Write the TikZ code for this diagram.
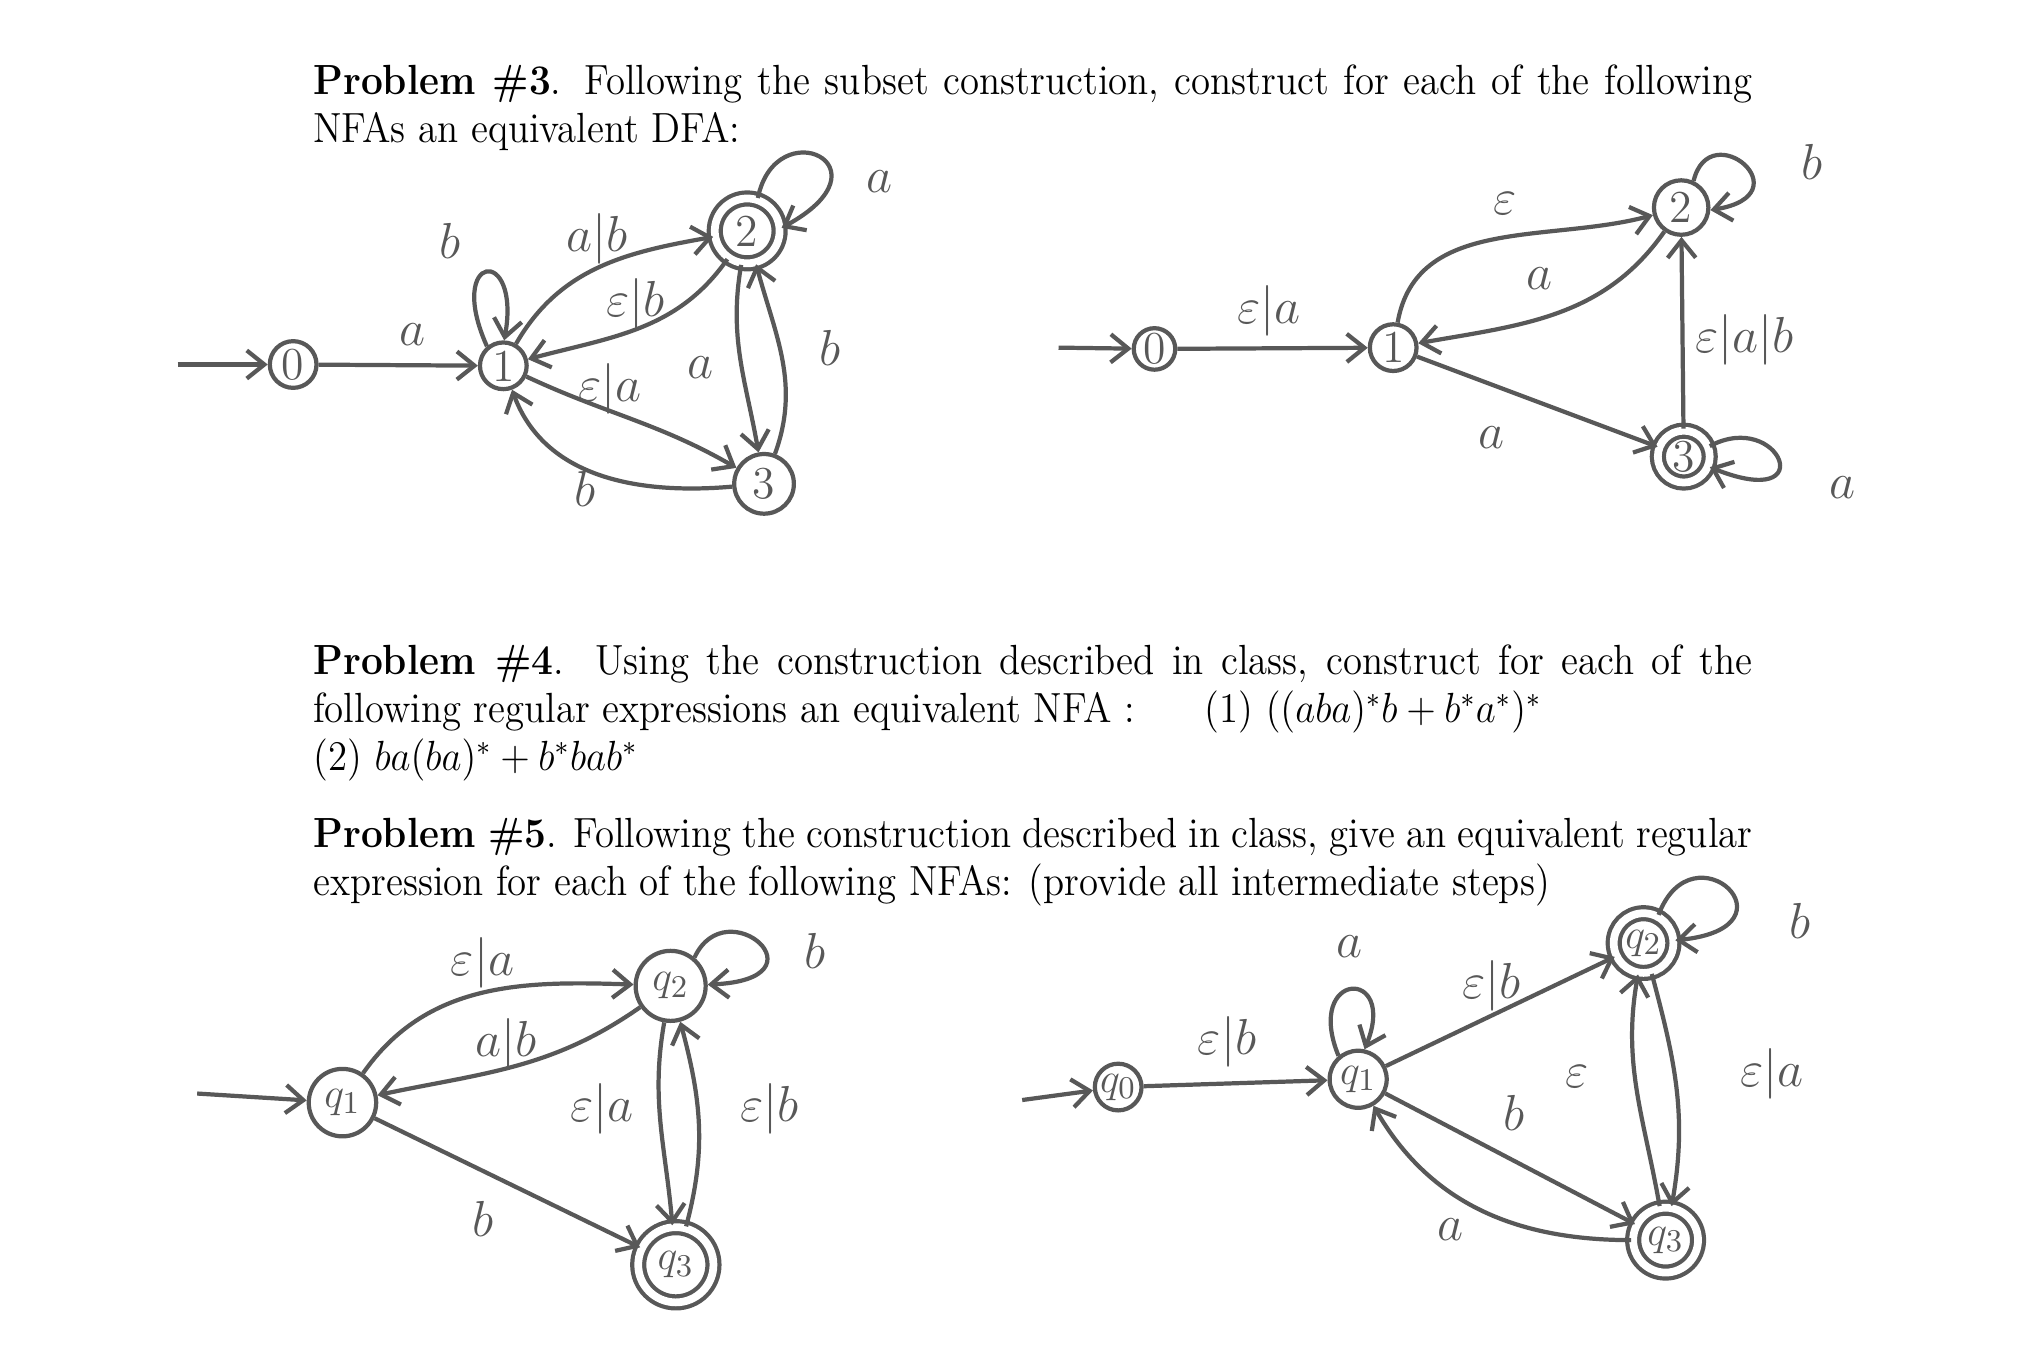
\documentclass[tikz,border=0pt]{standalone}
\usepackage{graphicx}
\usetikzlibrary{arrows.meta}
\definecolor{pen}{RGB}{88,88,88}
\tikzset{
  sz/.style={minimum size={#1*0.012972cm}},
  st/.style={circle, draw=pen, line width=1.2pt, inner sep=0pt, text=pen, font=\fontsize{13}{13}\selectfont},
  acc/.style={st, double=white, double distance=2.2pt},
  arr/.style={draw=pen, line width=1.2pt, -{Straight Barb[length=5pt,width=8pt]}},
  lbl/.style={text=pen, inner sep=0pt, font=\fontsize{15}{15}\selectfont},
  txt/.style={anchor=base west, inner sep=0pt, font=\fontsize{12}{14.5}\selectfont},
}
\newcommand{\sx}[1]{\scalebox{0.92}[1]{#1}}
\newcommand{\jline}[1]{\scalebox{0.92}[1]{\makebox[445pt][s]{#1}}}
\begin{document}
\begin{tikzpicture}[x=0.012972cm,y=0.012972cm]
\path[use as bounding box, fill=white] (0,0) rectangle (1568,-1050);

% ---------- texts
\node[txt] (t31) at (241,-73) {\jline{\textbf{Problem \#3}. Following the subset construction, construct for each of the following}};
\node[txt] (t32) at (241,-110) {\sx{NFAs an equivalent DFA:}};
\node[txt] (t41) at (241,-520) {\jline{\textbf{Problem \#4}. Using the construction described in class, construct for each of the}};
\node[txt] (t42) at (241,-557) {\sx{following regular expressions an equivalent NFA :}};
\node[txt] (t42b) at (928,-557) {\sx{(1) $((aba)^*b+b^*a^*)^*$}};
\node[txt] (t43) at (241,-594) {\sx{(2) $ba(ba)^*+b^*bab^*$}};
\node[txt] (t51) at (241,-653) {\jline{\textbf{Problem \#5}. Following the construction described in class, give an equivalent regular}};
\node[txt] (t52) at (241,-690) {\sx{expression for each of the following NFAs: (provide all intermediate steps)}};

% ---------- diagram 1
\node[st,sz=36] (d1q0) at (226,-281) {0};
\node[st,sz=36] (d1q1) at (388,-282) {1};
\node[acc,sz=50] (d1q2) at (576,-178) {2};
\node[st,sz=46] (d1q3) at (589,-373) {3};
\coordinate (d1in) at (137,-281);
\draw[arr] (d1in) -- (d1q0);
\draw[arr] (d1q0) -- (d1q1);
\draw[arr] (d1q1.130) .. controls (343,-195) and (402,-188) .. (d1q1.88);
\draw[arr] (d1q1) to[out=60,in=190] (d1q2);
\draw[arr] (d1q2) to[out=235,in=15] (d1q1);
\draw[arr] (d1q1) to[out=-25,in=150] (d1q3);
\draw[arr] (d1q3) to[out=185,in=-70] (d1q1);
\draw[arr] (d1q2) to[out=-100,in=100] (d1q3);
\draw[arr] (d1q3) to[out=70,in=-75] (d1q2);
\draw[arr] (d1q2.72) .. controls (598,-85) and (690,-128) .. (d1q2.5);
\node[lbl] (d1l1) at (347,-186) {$b$};
\node[lbl] (d1l2) at (318,-258) {$a$};
\node[lbl] (d1l3) at (460,-184) {$a|b$};
\node[lbl] (d1l4) at (490,-234) {$\varepsilon|b$};
\node[lbl] (d1l5) at (470,-300) {$\varepsilon|a$};
\node[lbl] (d1l6) at (451,-377) {$b$};
\node[lbl] (d1l7) at (540,-283) {$a$};
\node[lbl] (d1l8) at (640,-268) {$b$};
\node[lbl] (d1l9) at (678,-140) {$a$};

% ---------- diagram 2
\node[st,sz=32] (d2q0) at (890,-269) {0};
\node[st,sz=36] (d2q1) at (1074,-268) {1};
\node[st,sz=42] (d2q2) at (1296,-160) {2};
\node[acc,sz=40] (d2q3) at (1298,-352) {3};
\coordinate (d2in) at (816,-268);
\draw[arr] (d2in) -- (d2q0);
\draw[arr] (d2q0) -- (d2q1);
\draw[arr] (d2q1) to[out=80,in=195] (d2q2);
\draw[arr] (d2q2) to[out=235,in=10] (d2q1);
\draw[arr] (d2q1) -- (d2q3);
\draw[arr] (d2q3) -- (d2q2);
\draw[arr] (d2q2.65) .. controls (1318,-88) and (1392,-150) .. (d2q2.-5);
\draw[arr] (d2q3.22) .. controls (1372,-315) and (1405,-395) .. (d2q3.-22);
\node[lbl] (d2l1) at (978,-240) {$\varepsilon|a$};
\node[lbl] (d2l2) at (1160,-157) {$\varepsilon$};
\node[lbl] (d2l3) at (1187,-215) {$a$};
\node[lbl] (d2l4) at (1150,-337) {$a$};
\node[lbl] (d2l5) at (1345,-262) {$\varepsilon|a|b$};
\node[lbl] (d2l6) at (1397,-125) {$b$};
\node[lbl] (d2l7) at (1420,-376) {$a$};

% ---------- diagram 3
\node[st,sz=52] (d3q1) at (264,-850) {$q_1$};
\node[st,sz=54] (d3q2) at (517,-760) {$q_2$};
\node[acc,sz=58] (d3q3) at (521,-975) {$q_3$};
\coordinate (d3in) at (152,-843);
\draw[arr] (d3in) -- (d3q1);
\draw[arr] (d3q1) to[out=55,in=178] (d3q2);
\draw[arr] (d3q2) to[out=215,in=12] (d3q1);
\draw[arr] (d3q1) -- (d3q3);
\draw[arr] (d3q2) to[out=-100,in=95] (d3q3);
\draw[arr] (d3q3) to[out=75,in=-75] (d3q2);
\draw[arr] (d3q2.50) .. controls (560,-685) and (640,-755) .. (d3q2.2);
\node[lbl] (d3l1) at (372,-742) {$\varepsilon|a$};
\node[lbl] (d3l2) at (390,-805) {$a|b$};
\node[lbl] (d3l3) at (372,-940) {$b$};
\node[lbl] (d3l4) at (464,-855) {$\varepsilon|a$};
\node[lbl] (d3l5) at (593,-855) {$\varepsilon|b$};
\node[lbl] (d3l6) at (628,-733) {$b$};

% ---------- diagram 4
\node[st,sz=36] (d4q0) at (862,-838) {$q_0$};
\node[st,sz=44] (d4q1) at (1047,-832) {$q_1$};
\node[acc,sz=46] (d4q2) at (1267,-727) {$q_2$};
\node[acc,sz=50] (d4q3) at (1284,-956) {$q_3$};
\coordinate (d4in) at (788,-848);
\draw[arr] (d4in) -- (d4q0);
\draw[arr] (d4q0) -- (d4q1);
\draw[arr] (d4q1.130) .. controls (1005,-748) and (1078,-745) .. (d4q1.78);
\draw[arr] (d4q1) -- (d4q2);
\draw[arr] (d4q1) -- (d4q3);
\draw[arr] (d4q3) to[out=180,in=-60] (d4q1);
\draw[arr] (d4q3) to[out=100,in=-100] (d4q2);
\draw[arr] (d4q2) to[out=-75,in=80] (d4q3);
\draw[arr] (d4q2.62) .. controls (1305,-635) and (1390,-715) .. (d4q2.5);
\node[lbl] (d4l1) at (946,-803) {$\varepsilon|b$};
\node[lbl] (d4l2) at (1040,-730) {$a$};
\node[lbl] (d4l3) at (1150,-760) {$\varepsilon|b$};
\node[lbl] (d4l4) at (1167,-858) {$b$};
\node[lbl] (d4l5) at (1118,-948) {$a$};
\node[lbl] (d4l6) at (1216,-830) {$\varepsilon$};
\node[lbl] (d4l7) at (1366,-828) {$\varepsilon|a$};
\node[lbl] (d4l8) at (1388,-710) {$b$};
\end{tikzpicture}
\end{document}
